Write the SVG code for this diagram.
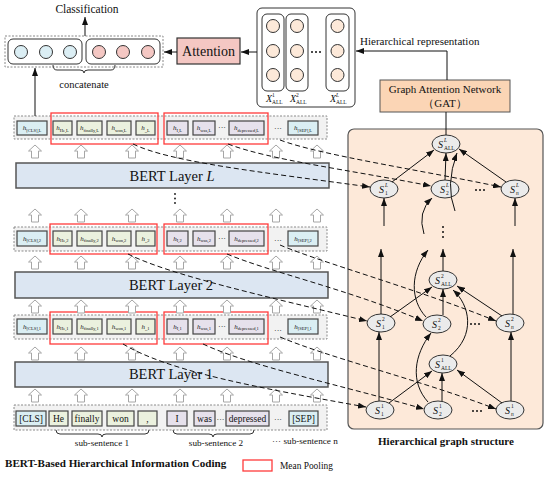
<svg xmlns="http://www.w3.org/2000/svg" width="550" height="477" viewBox="0 0 550 477">
<defs>
<marker id="ah" markerUnits="userSpaceOnUse" markerWidth="8" markerHeight="6" refX="8" refY="3" orient="auto"><path d="M0,0 L8,3 L0,6 Z" fill="#111"/></marker>
<path id="ua" d="M0,0 L6.5,6 L3.5,6 L3.5,13 L-3.5,13 L-3.5,6 L-6.5,6 Z"/>
</defs>
<style>
text{font-family:"Liberation Serif","Times New Roman",serif;fill:#111}
.tok{stroke:#444;stroke-width:1.2}
.bl{fill:#daeef3}.gr{fill:#ebf1de}.lv{fill:#e6e1ec}
.row{fill:#f2f2f2;stroke:#8a8a8a;stroke-dasharray:2 1.5;stroke-width:1}
.red{fill:none;stroke:#ff3b3b;stroke-width:1.3}
.ua{fill:#fff;stroke:#a6a6a6;stroke-width:1}
.bert{fill:#dce6f2;stroke:#555;stroke-width:1.5}
.bt{font-size:14.5px;text-anchor:middle}
.h{font-size:7px;font-style:italic;text-anchor:middle}
.sb{font-size:4.5px;font-style:normal}
.it{font-size:9.5px;text-anchor:middle}
.ln{fill:none;stroke:#111;stroke-width:1}
.da{fill:none;stroke:#111;stroke-width:1;stroke-dasharray:5 3}
.nd{fill:#ebebeb;stroke:#333;stroke-width:1}
.S{font-size:10px;font-style:italic}
.sp{font-size:5.5px}
.dot{fill:#111}
.cb{fill:#dbeef4;stroke:#333;stroke-width:1}
.cp{fill:#f4c7c3;stroke:#333;stroke-width:1}
.ch{fill:#fde9d9;stroke:#333;stroke-width:1}
.col{fill:#fff;stroke:#333;stroke-width:1}
</style>

<!-- Output / classification -->
<g id="output">
<rect x="5" y="36" width="158" height="31" fill="#fff" stroke="#888" stroke-dasharray="2 1.5"/>
<rect x="8" y="39" width="74" height="25" rx="5" fill="#fff" stroke="#333"/>
<rect x="86" y="39" width="74" height="25" rx="5" fill="#fff" stroke="#333"/>
<circle class="cb" cx="21" cy="52" r="6.5"/><circle class="cb" cx="46" cy="52" r="6.5"/><circle class="cb" cx="70" cy="52" r="6.5"/>
<circle class="cp" cx="99" cy="52" r="6.5"/><circle class="cp" cx="123" cy="52" r="6.5"/><circle class="cp" cx="148" cy="52" r="6.5"/>
<path d="M53,65 q0,5 4,5 L80,70 q4,0 4,3 q0,-3 4,-3 L111,70 q4,0 4,-5" fill="none" stroke="#333"/>
<text x="84" y="88" font-size="10.5" text-anchor="middle">concatenate</text>
<text x="87" y="13" font-size="11.5" text-anchor="middle">Classification</text>
</g>

<g id="attention">
<rect x="177" y="38" width="63" height="26" fill="#f4c7c3" stroke="#333" stroke-width="1.2"/>
<text x="208.5" y="56" font-size="14" text-anchor="middle">Attention</text>
</g>

<g id="hier-rep">
<rect x="257" y="8" width="98" height="99" rx="5" fill="#fff" stroke="#333"/>
<rect class="col" x="262" y="14" width="22" height="77" rx="5"/>
<rect class="col" x="286" y="14" width="22" height="77" rx="5"/>
<rect class="col" x="326" y="14" width="23" height="77" rx="5"/>
<circle class="ch" cx="273" cy="26" r="6.5"/><circle class="ch" cx="273" cy="51" r="6.5"/><circle class="ch" cx="273" cy="75" r="6.5"/>
<circle class="ch" cx="297" cy="26" r="6.5"/><circle class="ch" cx="297" cy="51" r="6.5"/><circle class="ch" cx="297" cy="75" r="6.5"/>
<circle class="ch" cx="337.5" cy="26" r="6.5"/><circle class="ch" cx="337.5" cy="51" r="6.5"/><circle class="ch" cx="337.5" cy="75" r="6.5"/>
<circle class="dot" cx="312" cy="52" r="1"/><circle class="dot" cx="316" cy="52" r="1"/><circle class="dot" cx="320" cy="52" r="1"/>
<text class="S" x="266" y="102" font-size="8">X</text><text class="sp" x="272" y="97" font-size="4.5">1</text><text class="sp" x="272" y="104" font-size="4.5">ALL</text>
<text class="S" x="290" y="102" font-size="8">X</text><text class="sp" x="296" y="97" font-size="4.5">2</text><text class="sp" x="296" y="104" font-size="4.5">ALL</text>
<text class="S" x="330" y="102" font-size="8">X</text><text class="sp" x="336" y="97" font-size="4.5" font-style="italic">L</text><text class="sp" x="336" y="104" font-size="4.5">ALL</text>
</g>

<text x="360" y="45" font-size="11">Hierarchical representation</text>

<g id="gat">
<rect x="380" y="80" width="130" height="32" fill="#fbd5b5" stroke="#555"/>
<text x="445" y="93" font-size="11" text-anchor="middle">Graph Attention Network</text>
<text x="445" y="107" font-size="11" text-anchor="middle">（GAT）</text>
</g>

<!-- Row L -->
<g id="row-L">
<rect class="row" x="14" y="116" width="313" height="23"/>
<rect class="tok bl" x="17" y="121" width="30" height="14"/><text class="h" x="32" y="130">h<tspan class="sb" dy="1.5">[CLS],L</tspan></text>
<rect class="tok gr" x="53" y="121" width="19" height="14"/><text class="h" x="62.5" y="130">h<tspan class="sb" dy="1.5">He,L</tspan></text>
<rect class="tok gr" x="77" y="121" width="25" height="14"/><text class="h" x="89.5" y="130">h<tspan class="sb" dy="1.5">finally,L</tspan></text>
<rect class="tok gr" x="107" y="121" width="24" height="14"/><text class="h" x="119" y="130">h<tspan class="sb" dy="1.5">won,L</tspan></text>
<rect class="tok gr" x="136" y="121" width="19" height="14"/><text class="h" x="145.5" y="130">h<tspan class="sb" dy="1.5">,,L</tspan></text>
<rect class="tok lv" x="167" y="121" width="21" height="14"/><text class="h" x="177.5" y="130">h<tspan class="sb" dy="1.5">I,L</tspan></text>
<rect class="tok lv" x="193" y="121" width="22" height="14"/><text class="h" x="204" y="130">h<tspan class="sb" dy="1.5">was,L</tspan></text>
<text x="222" y="130" font-size="8" text-anchor="middle">···</text>
<rect class="tok lv" x="229" y="121" width="35" height="14"/><text class="h" x="246.5" y="130">h<tspan class="sb" dy="1.5">depressed,L</tspan></text>
<text x="278" y="131" font-size="8" text-anchor="middle">···</text>
<rect class="tok bl" x="288" y="121" width="30" height="14"/><text class="h" x="303" y="130">h<tspan class="sb" dy="1.5">[SEP],L</tspan></text>
<rect class="red" x="51" y="113" width="107" height="31"/>
<rect class="red" x="164" y="113" width="104" height="31"/>
</g>

<g id="bert-L">
<rect class="bert" x="16" y="163" width="313" height="25"/>
<text class="bt" x="172" y="181">BERT Layer <tspan font-style="italic">L</tspan></text>
</g>
<circle class="dot" cx="175" cy="194" r="0.9"/><circle class="dot" cx="175" cy="198.5" r="0.9"/><circle class="dot" cx="175" cy="203" r="0.9"/>

<!-- Row 2 -->
<g id="row-2">
<rect class="row" x="14" y="227" width="313" height="24"/>
<rect class="tok bl" x="17" y="231" width="30" height="15"/><text class="h" x="32" y="240.5">h<tspan class="sb" dy="1.5">[CLS],2</tspan></text>
<rect class="tok gr" x="53" y="231" width="19" height="15"/><text class="h" x="62.5" y="240.5">h<tspan class="sb" dy="1.5">He,2</tspan></text>
<rect class="tok gr" x="77" y="231" width="25" height="15"/><text class="h" x="89.5" y="240.5">h<tspan class="sb" dy="1.5">finally,2</tspan></text>
<rect class="tok gr" x="107" y="231" width="24" height="15"/><text class="h" x="119" y="240.5">h<tspan class="sb" dy="1.5">won,2</tspan></text>
<rect class="tok gr" x="136" y="231" width="19" height="15"/><text class="h" x="145.5" y="240.5">h<tspan class="sb" dy="1.5">,,2</tspan></text>
<rect class="tok lv" x="167" y="231" width="21" height="15"/><text class="h" x="177.5" y="240.5">h<tspan class="sb" dy="1.5">I,2</tspan></text>
<rect class="tok lv" x="193" y="231" width="22" height="15"/><text class="h" x="204" y="240.5">h<tspan class="sb" dy="1.5">was,2</tspan></text>
<text x="222" y="241" font-size="8" text-anchor="middle">···</text>
<rect class="tok lv" x="229" y="231" width="35" height="15"/><text class="h" x="246.5" y="240.5">h<tspan class="sb" dy="1.5">depressed,2</tspan></text>
<text x="278" y="243" font-size="8" text-anchor="middle">···</text>
<rect class="tok bl" x="288" y="231" width="30" height="15"/><text class="h" x="303" y="240.5">h<tspan class="sb" dy="1.5">[SEP],2</tspan></text>
<rect class="red" x="50" y="224" width="107" height="30"/>
<rect class="red" x="164" y="224" width="104" height="30"/>
</g>

<g id="bert-2">
<rect class="bert" x="15" y="272" width="313" height="26"/>
<text class="bt" x="171" y="290">BERT Layer 2</text>
</g>

<!-- Row 1 -->
<g id="row-1">
<rect class="row" x="14" y="315" width="313" height="24"/>
<rect class="tok bl" x="17" y="319" width="30" height="15"/><text class="h" x="32" y="328.5">h<tspan class="sb" dy="1.5">[CLS],1</tspan></text>
<rect class="tok gr" x="53" y="319" width="19" height="15"/><text class="h" x="62.5" y="328.5">h<tspan class="sb" dy="1.5">He,1</tspan></text>
<rect class="tok gr" x="77" y="319" width="25" height="15"/><text class="h" x="89.5" y="328.5">h<tspan class="sb" dy="1.5">finally,1</tspan></text>
<rect class="tok gr" x="107" y="319" width="24" height="15"/><text class="h" x="119" y="328.5">h<tspan class="sb" dy="1.5">won,1</tspan></text>
<rect class="tok gr" x="136" y="319" width="19" height="15"/><text class="h" x="145.5" y="328.5">h<tspan class="sb" dy="1.5">,,1</tspan></text>
<rect class="tok lv" x="167" y="319" width="21" height="15"/><text class="h" x="177.5" y="328.5">h<tspan class="sb" dy="1.5">I,1</tspan></text>
<rect class="tok lv" x="193" y="319" width="22" height="15"/><text class="h" x="204" y="328.5">h<tspan class="sb" dy="1.5">was,1</tspan></text>
<text x="222" y="329" font-size="8" text-anchor="middle">···</text>
<rect class="tok lv" x="229" y="319" width="35" height="15"/><text class="h" x="246.5" y="328.5">h<tspan class="sb" dy="1.5">depressed,1</tspan></text>
<text x="278" y="333" font-size="8" text-anchor="middle">···</text>
<rect class="tok bl" x="288" y="319" width="30" height="15"/><text class="h" x="303" y="328.5">h<tspan class="sb" dy="1.5">[SEP],1</tspan></text>
<rect class="red" x="50" y="312" width="107" height="32"/>
<rect class="red" x="164" y="312" width="104" height="32"/>
</g>

<g id="bert-1">
<rect class="bert" x="15" y="362" width="313" height="25"/>
<text class="bt" x="171" y="379">BERT Layer 1</text>
</g>

<!-- Input -->
<g id="input">
<rect class="row" x="14" y="405" width="313" height="25"/>
<rect class="tok bl" x="16" y="411" width="30" height="15"/><text class="it" x="31" y="422">[CLS]</text>
<rect class="tok gr" x="49" y="411" width="19" height="15"/><text class="it" x="58.5" y="422">He</text>
<rect class="tok gr" x="72" y="411" width="30" height="15"/><text class="it" x="87" y="422">finally</text>
<rect class="tok gr" x="107" y="411" width="27" height="15"/><text class="it" x="120.5" y="422">won</text>
<rect class="tok gr" x="138" y="411" width="19" height="15"/><text class="it" x="147.5" y="422">,</text>
<rect class="tok lv" x="167" y="411" width="20" height="15"/><text class="it" x="177" y="422">I</text>
<rect class="tok lv" x="194" y="411" width="21" height="15"/><text class="it" x="204.5" y="422">was</text>
<text x="220.5" y="422" font-size="8" text-anchor="middle">···</text>
<rect class="tok lv" x="226" y="411" width="43" height="15"/><text class="it" x="247.5" y="422">depressed</text>
<text x="278" y="422" font-size="8" text-anchor="middle">···</text>
<rect class="tok bl" x="289" y="411" width="29" height="15"/><text class="it" x="303.5" y="422">[SEP]</text>
<path d="M56,430 q0,4 4,4 L98,434 q4,0 4,3 q0,-3 4,-3 L145,434 q4,0 4,-4" fill="none" stroke="#333"/>
<path d="M173,430 q0,4 4,4 L209,434 q4,0 4,3 q0,-3 4,-3 L250,434 q4,0 4,-4" fill="none" stroke="#333"/>
<text x="102" y="446" font-size="9.2" text-anchor="middle">sub-sentence 1</text>
<text x="216" y="446" font-size="9.2" text-anchor="middle">sub-sentence 2</text>
<text x="272" y="444" font-size="9.2">···  sub-sentence n</text>
</g>

<!-- Up block arrows -->
<g id="up-arrows" class="ua">
<use href="#ua" x="35" y="145"/><use href="#ua" x="81" y="145"/><use href="#ua" x="132" y="145"/><use href="#ua" x="180" y="145"/><use href="#ua" x="227" y="145"/><use href="#ua" x="276" y="145"/><use href="#ua" x="317" y="145"/>
<use href="#ua" x="35" y="209"/><use href="#ua" x="81" y="209"/><use href="#ua" x="132" y="209"/><use href="#ua" x="180" y="209"/><use href="#ua" x="227" y="209"/><use href="#ua" x="276" y="209"/><use href="#ua" x="317" y="209"/>
<use href="#ua" x="35" y="256"/><use href="#ua" x="81" y="256"/><use href="#ua" x="132" y="256"/><use href="#ua" x="180" y="256"/><use href="#ua" x="227" y="256"/><use href="#ua" x="276" y="256"/><use href="#ua" x="317" y="256"/>
<use href="#ua" x="35" y="300"/><use href="#ua" x="81" y="300"/><use href="#ua" x="132" y="300"/><use href="#ua" x="180" y="300"/><use href="#ua" x="227" y="300"/><use href="#ua" x="276" y="300"/><use href="#ua" x="317" y="300"/>
<use href="#ua" x="35" y="347"/><use href="#ua" x="81" y="347"/><use href="#ua" x="132" y="347"/><use href="#ua" x="180" y="347"/><use href="#ua" x="227" y="347"/><use href="#ua" x="276" y="347"/><use href="#ua" x="317" y="347"/>
<use href="#ua" x="35" y="389"/><use href="#ua" x="81" y="389"/><use href="#ua" x="132" y="389"/><use href="#ua" x="180" y="389"/><use href="#ua" x="227" y="389"/><use href="#ua" x="276" y="389"/><use href="#ua" x="317" y="389"/>
</g>

<!-- Graph panel -->
<g id="graph-panel">
<rect x="348" y="129" width="195" height="300" rx="6" fill="#fde9d9" stroke="#555" stroke-width="1.2"/>
<text x="446" y="445" font-size="11" font-weight="bold" text-anchor="middle">Hierarchical graph structure</text>
</g>

<g id="S-ALL-L"><ellipse class="nd" cx="446" cy="144" rx="14" ry="9"/><text class="S" x="438" y="148">S</text><text class="sp" x="444" y="142" font-style="italic">L</text><text class="sp" x="444" y="150">ALL</text></g>
<g id="S-1-L"><ellipse class="nd" cx="384" cy="189" rx="14" ry="9"/><text class="S" x="379" y="193">S</text><text class="sp" x="385" y="187" font-style="italic">L</text><text class="sp" x="385" y="195">1</text></g>
<g id="S-2-L"><ellipse class="nd" cx="445" cy="189" rx="14" ry="9"/><text class="S" x="440" y="193">S</text><text class="sp" x="446" y="187" font-style="italic">L</text><text class="sp" x="446" y="195">2</text></g>
<g id="S-n-L"><ellipse class="nd" cx="515" cy="189" rx="14" ry="9"/><text class="S" x="510" y="193">S</text><text class="sp" x="516" y="187" font-style="italic">L</text><text class="sp" x="516" y="195" font-style="italic">n</text></g>

<g id="S-ALL-2"><ellipse class="nd" cx="443" cy="280" rx="14" ry="9"/><text class="S" x="435" y="284">S</text><text class="sp" x="441" y="278">2</text><text class="sp" x="441" y="286">ALL</text></g>
<g id="S-1-2"><ellipse class="nd" cx="381" cy="323" rx="14" ry="9"/><text class="S" x="376" y="327">S</text><text class="sp" x="382" y="321">2</text><text class="sp" x="382" y="329">1</text></g>
<g id="S-2-2"><ellipse class="nd" cx="437" cy="324" rx="14" ry="9"/><text class="S" x="432" y="328">S</text><text class="sp" x="438" y="322">2</text><text class="sp" x="438" y="330">2</text></g>
<g id="S-n-2"><ellipse class="nd" cx="510" cy="323" rx="14" ry="9"/><text class="S" x="505" y="327">S</text><text class="sp" x="511" y="321">2</text><text class="sp" x="511" y="329" font-style="italic">n</text></g>

<g id="S-ALL-1"><ellipse class="nd" cx="443" cy="364" rx="14" ry="9"/><text class="S" x="435" y="368">S</text><text class="sp" x="441" y="362">1</text><text class="sp" x="441" y="370">ALL</text></g>
<g id="S-1-1"><ellipse class="nd" cx="380" cy="410" rx="14" ry="9"/><text class="S" x="375" y="414">S</text><text class="sp" x="381" y="408">1</text><text class="sp" x="381" y="416">1</text></g>
<g id="S-2-1"><ellipse class="nd" cx="438" cy="410" rx="14" ry="9"/><text class="S" x="433" y="414">S</text><text class="sp" x="439" y="408">1</text><text class="sp" x="439" y="416">2</text></g>
<g id="S-n-1"><ellipse class="nd" cx="510" cy="410" rx="14" ry="9"/><text class="S" x="505" y="414">S</text><text class="sp" x="511" y="408">1</text><text class="sp" x="511" y="416" font-style="italic">n</text></g>

<g id="graph-dots" class="dot">
<circle cx="476" cy="190" r="1"/><circle cx="480" cy="190" r="1"/><circle cx="484" cy="190" r="1"/>
<circle cx="471" cy="324" r="1"/><circle cx="475" cy="324" r="1"/><circle cx="479" cy="324" r="1"/>
<circle cx="473" cy="411" r="1"/><circle cx="477" cy="411" r="1"/><circle cx="481" cy="411" r="1"/>
<circle cx="443" cy="227" r="1"/><circle cx="443" cy="232" r="1"/><circle cx="443" cy="237" r="1"/>
</g>

<!-- Connectors -->
<g id="connectors">
<line class="ln" x1="85" y1="36" x2="85" y2="17" marker-end="url(#ah)"/>
<line class="ln" x1="35" y1="116" x2="35" y2="68" marker-end="url(#ah)"/>
<line class="ln" x1="177" y1="52" x2="164" y2="52" marker-end="url(#ah)"/>
<line class="ln" x1="257" y1="52" x2="241" y2="52" marker-end="url(#ah)"/>
<polyline class="ln" points="447,80 447,51 356,51" marker-end="url(#ah)"/>
<line class="ln" x1="446" y1="135" x2="446" y2="112"/>

<line class="ln" x1="392" y1="182" x2="434" y2="150" marker-end="url(#ah)"/>
<line class="ln" x1="445" y1="180" x2="446" y2="153" marker-end="url(#ah)"/>
<line class="ln" x1="506" y1="182" x2="459" y2="149" marker-end="url(#ah)"/>
<path class="ln" d="M455,211 Q445,185 457,153" marker-end="url(#ah)"/>
<line class="ln" x1="384" y1="226" x2="384" y2="198" marker-end="url(#ah)"/>
<line class="ln" x1="515" y1="226" x2="515" y2="198" marker-end="url(#ah)"/>
<path class="ln" d="M424,234 Q417,212 432,198" marker-end="url(#ah)"/>

<line class="ln" x1="381" y1="314" x2="381" y2="249" marker-end="url(#ah)"/>
<line class="ln" x1="443" y1="271" x2="443" y2="249" marker-end="url(#ah)"/>
<line class="ln" x1="513" y1="314" x2="513" y2="249" marker-end="url(#ah)"/>
<path class="ln" d="M426,317 C410,300 410,272 428,250" marker-end="url(#ah)"/>
<line class="ln" x1="390" y1="317" x2="432" y2="287" marker-end="url(#ah)"/>
<line class="ln" x1="443" y1="315" x2="443" y2="289" marker-end="url(#ah)"/>
<line class="ln" x1="502" y1="316" x2="457" y2="286" marker-end="url(#ah)"/>
<path class="ln" d="M450,356 C476,335 470,305 453,290" marker-end="url(#ah)"/>
<path class="ln" d="M428,402 C410,382 414,355 431,333" marker-end="url(#ah)"/>
<line class="ln" x1="379" y1="401" x2="379" y2="332" marker-end="url(#ah)"/>
<line class="ln" x1="511" y1="401" x2="511" y2="332" marker-end="url(#ah)"/>

<line class="ln" x1="389" y1="403" x2="432" y2="371" marker-end="url(#ah)"/>
<line class="ln" x1="442" y1="401" x2="442" y2="373" marker-end="url(#ah)"/>
<line class="ln" x1="502" y1="403" x2="457" y2="370" marker-end="url(#ah)"/>

<path class="da" d="M133,144 C170,162 260,172 370,187" marker-end="url(#ah)"/>
<path class="da" d="M228,144 C270,160 350,170 431,186" marker-end="url(#ah)"/>
<path class="da" d="M280,140 C320,155 420,170 501,187" marker-end="url(#ah)"/>

<path class="da" d="M128,254 C170,275 260,295 367,321" marker-end="url(#ah)"/>
<path class="da" d="M227,254 C270,272 350,290 423,321" marker-end="url(#ah)"/>
<path class="da" d="M280,245 C320,262 420,290 496,321" marker-end="url(#ah)"/>

<path class="da" d="M123,344 C170,372 260,388 366,407" marker-end="url(#ah)"/>
<path class="da" d="M203,344 C250,366 340,385 424,409" marker-end="url(#ah)"/>
<path class="da" d="M280,337 C330,358 420,380 496,409" marker-end="url(#ah)"/>
</g>

<!-- Footer -->
<text x="5" y="467" font-size="11.1" font-weight="bold">BERT-Based Hierarchical Information Coding</text>
<g id="legend">
<rect class="red" x="243" y="460" width="29" height="11"/>
<text x="280" y="469" font-size="9.4">Mean Pooling</text>
</g>
</svg>
